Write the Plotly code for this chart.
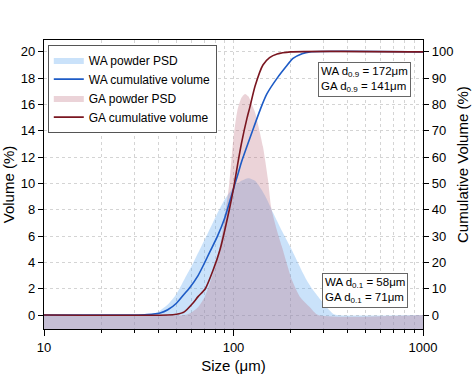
import plotly.graph_objects as go

# ---- data ----
wa_psd_size = [10, 35, 40, 45, 50, 55, 60, 66, 72, 82, 90, 100, 110, 120, 130, 141, 150, 162, 180, 199, 220, 243, 260, 280, 309, 335, 350, 1000]
wa_psd_vol = [0, 0, 0.25, 0.8, 1.6, 2.7, 3.7, 4.9, 6.0, 7.7, 8.8, 9.7, 10.2, 10.4, 10.2, 9.5, 8.8, 7.75, 6.4, 5.2, 3.9, 2.66, 2.0, 1.4, 0.63, 0.1, 0, 0]

ga_psd_size = [10, 55, 60, 65, 70, 75, 80, 85, 90, 95, 100, 105, 110, 115, 120, 125, 130, 143, 152, 158, 169, 180, 203, 224, 253, 280, 1000]
ga_psd_vol = [0, 0, 0.2, 0.6, 1.3, 2.4, 3.7, 5.3, 7.5, 10.0, 13.5, 15.6, 16.5, 16.8, 16.6, 16.0, 15.4, 12.8, 10.3, 8.2, 6.5, 5.2, 2.7, 1.4, 0.6, 0, 0]

wa_cum_size = [10, 30, 35, 41, 45, 50, 55, 59, 65, 70, 75, 82, 90, 100, 105, 110, 127, 140, 150, 170, 190, 206, 230, 253, 1000]
wa_cum_vol = [0, 0, 0.2, 0.8, 2, 4.5, 8, 10.6, 15, 19.5, 24, 29.7, 37, 48, 53, 58, 70.7, 79, 84, 90, 94.5, 97.5, 99.3, 100, 100]

ga_cum_size = [10, 45, 50, 55, 61, 65, 71, 78, 85, 95, 100, 105, 110, 118, 122, 130, 143, 155, 170, 200, 1000]
ga_cum_vol = [0, 0, 0.3, 1.2, 4.5, 7, 10, 17, 25, 40, 48, 57, 65, 75, 79, 87, 95, 97.8, 99.2, 100, 100]

x_major = [10, 100, 1000]
x_minor = [20, 30, 40, 50, 60, 70, 80, 90, 200, 300, 400, 500, 600, 700, 800, 900]
y_ticks = list(range(0, 21, 2))
y2_ticks = list(range(0, 101, 10))

WA_FILL = "rgba(100,170,240,0.34)"
GA_FILL = "rgba(185,105,120,0.29)"
WA_LINE = "#1d5bc6"
GA_LINE = "#7a1620"
Y_RANGE = [-1.06, 20.9]
FLOOR = -3
GRID = "#d4d4d4"

fig = go.Figure()
# baseline + WA fill
fig.add_trace(go.Scatter(x=[10, 1000], y=[FLOOR, FLOOR], mode="lines", line=dict(width=0),
                         showlegend=False, hoverinfo="skip"))
fig.add_trace(go.Scatter(x=wa_psd_size, y=wa_psd_vol, name="WA powder PSD", mode="lines",
                         line=dict(width=0, shape="spline", smoothing=0.6), fill="tonexty",
                         fillcolor=WA_FILL, legendrank=1))
# baseline + GA fill
fig.add_trace(go.Scatter(x=[10, 1000], y=[FLOOR, FLOOR], mode="lines", line=dict(width=0),
                         showlegend=False, hoverinfo="skip"))
fig.add_trace(go.Scatter(x=ga_psd_size, y=ga_psd_vol, name="GA powder PSD", mode="lines",
                         line=dict(width=0, shape="spline", smoothing=0.6), fill="tonexty",
                         fillcolor=GA_FILL, legendrank=3))
# cumulative curves
fig.add_trace(go.Scatter(x=wa_cum_size, y=wa_cum_vol, name="WA cumulative volume", mode="lines",
                         line=dict(width=1.6, color=WA_LINE, shape="spline", smoothing=0.6),
                         yaxis="y2", legendrank=2))
fig.add_trace(go.Scatter(x=ga_cum_size, y=ga_cum_vol, name="GA cumulative volume", mode="lines",
                         line=dict(width=1.6, color=GA_LINE, shape="spline", smoothing=0.6),
                         yaxis="y2", legendrank=4))

font = "Liberation Sans, Arial, sans-serif"
fig.update_layout(
    width=474, height=387,
    margin=dict(l=44, r=51, t=40, b=58, autoexpand=False),
    paper_bgcolor="white", plot_bgcolor="white",
    font=dict(family=font, size=13, color="black"),
    showlegend=True,
    legend=dict(x=0.01, y=0.984, xanchor="left", yanchor="top", traceorder="normal",
                bordercolor="#555", borderwidth=1, bgcolor="white",
                font=dict(size=12), tracegroupgap=0, itemwidth=30),
    xaxis=dict(type="log", range=[1, 3], tickvals=x_major, ticktext=["10", "100", "1000"],
               ticks="outside", ticklen=6, tickwidth=1.2, tickcolor="black", automargin=False,
               showline=True, linecolor="black", linewidth=1.3, mirror=True,
               showgrid=True, gridcolor=GRID, griddash="dot", gridwidth=1,
               minor=dict(tickvals=x_minor, ticks="outside", ticklen=3, tickcolor="black",
                          showgrid=True, gridcolor=GRID, griddash="dot", gridwidth=1),
               title=dict(text="Size (μm)", font=dict(size=15), standoff=6),
               zeroline=False),
    yaxis=dict(range=Y_RANGE, tickvals=y_ticks, ticks="outside", ticklen=5, tickwidth=1.2,
               tickcolor="black", showline=True, linecolor="black", linewidth=1.3, automargin=False,
               showgrid=True, gridcolor=GRID, griddash="dot", gridwidth=1,
               zeroline=False, title=dict(text="Volume (%)", font=dict(size=15), standoff=4)),
    yaxis2=dict(range=[Y_RANGE[0] * 5, Y_RANGE[1] * 5], tickvals=y2_ticks, overlaying="y",
                side="right", ticks="outside", ticklen=5, tickwidth=1.2, tickcolor="black",
                showline=True, linecolor="black", linewidth=1.3, showgrid=False, zeroline=False,
                automargin=False),
    annotations=[
        dict(xref="paper", yref="paper", x=0.968, y=0.924, xanchor="right", yanchor="top",
             text="WA d<sub>0.9</sub> = 172μm<br>GA d<sub>0.9</sub> = 141μm", showarrow=False,
             align="left", bordercolor="#666", borderwidth=1, bgcolor="white",
             font=dict(size=11.5), borderpad=2),
        dict(xref="paper", yref="paper", x=0.96, y=0.194, xanchor="right", yanchor="top",
             text="WA d<sub>0.1</sub> = 58μm<br>GA d<sub>0.1</sub> = 71μm", showarrow=False,
             align="left", bordercolor="#666", borderwidth=1, bgcolor="white",
             font=dict(size=11.5), borderpad=2),
        dict(xref="paper", yref="paper", x=1.1055, y=0.571, xanchor="center", yanchor="middle",
             text="Cumulative Volume (%)", textangle=-90, showarrow=False,
             font=dict(size=15)),
    ],
)

fig.write_html("out.html", config={"displayModeBar": False},
               post_script="document.body.style.margin='0';")
